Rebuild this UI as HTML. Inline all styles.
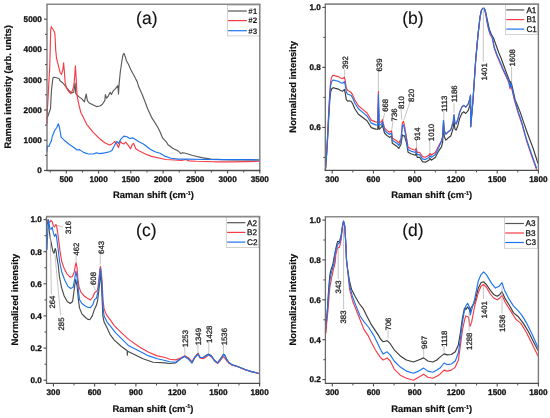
<!DOCTYPE html>
<html><head><meta charset="utf-8"><style>
html,body{margin:0;padding:0;background:#fff;}
svg{display:block;}
.g{filter:blur(0.3px);}
.t{filter:blur(0.12px);}
text{font-family:"Liberation Sans",sans-serif;fill:#111;text-rendering:geometricPrecision;}
.tk{font-size:8.2px;font-weight:bold;stroke:#111;stroke-width:0.3px;}
.ttl{font-size:9.4px;font-weight:bold;stroke:#111;stroke-width:0.2px;}
.ttla{font-size:10.2px;font-weight:bold;}
.ann{font-size:7.8px;fill:#1a1a1a;stroke:#1a1a1a;stroke-width:0.25px;}
.lg{font-size:8.2px;fill:#111;stroke:#111;stroke-width:0.25px;}
.lga{font-size:8px;font-weight:bold;fill:#111;}
.pl{font-size:17.5px;fill:#111;stroke:#111;stroke-width:0.12px;}
</style></head><body>
<svg width="550" height="418" viewBox="0 0 550 418">
<rect width="550" height="418" fill="#fff"/>
<g class="g">
<polyline points="46.9,118.8 49.0,113.0 50.5,108.7 51.4,90.9 52.9,78.0 54.3,77.2 57.2,78.0 59.3,78.7 60.0,80.8 62.9,83.0 65.8,86.6 68.7,90.2 71.5,93.0 73.7,92.3 75.1,83.0 75.8,93.7 78.7,96.6 81.6,98.6 84.4,101.8 86.2,94.0 87.4,100.6 89.2,103.0 92.8,104.8 96.4,106.6 100.0,106.0 102.4,104.2 104.8,100.6 105.4,94.6 106.6,98.2 108.4,95.8 110.2,92.3 111.4,94.6 113.1,91.1 115.5,88.7 117.9,85.7 118.5,94.0 119.1,83.9 120.3,72.0 121.8,61.5 122.9,55.0 124.0,53.3 125.4,57.2 126.5,60.8 128.7,64.7 130.7,69.4 133.7,75.0 135.8,79.1 137.2,81.6 138.6,86.6 142.2,94.5 145.8,103.8 147.5,108.5 151.9,117.9 157.9,127.5 160.0,131.8 162.7,138.2 166.3,141.8 168.0,144.8 172.7,148.2 178.2,150.9 180.9,153.6 182.7,152.7 185.5,153.3 192.7,155.5 201.8,157.6 210.9,159.1 223.6,159.6 232.7,160.0 241.8,159.6 259.5,160.0" fill="none" stroke="#5a5a5a" stroke-width="1.15" stroke-linejoin="round"/>
<polyline points="46.9,124.0 47.4,110.0 48.2,95.0 49.0,80.0 49.7,68.0 50.2,50.0 50.7,30.0 51.3,26.6 51.9,27.8 52.8,29.0 53.7,30.8 54.3,31.4 54.9,33.7 55.7,50.0 56.5,58.0 57.9,63.6 60.0,72.2 61.5,74.4 62.9,69.3 63.6,62.9 64.3,70.8 65.1,82.3 66.5,88.0 68.7,91.6 70.8,93.7 72.2,90.9 73.7,86.6 74.7,76.5 75.4,65.8 76.1,76.5 77.0,95.2 78.7,103.8 80.8,112.5 81.9,114.6 86.7,124.3 93.2,132.3 99.6,138.7 104.8,142.7 109.6,145.1 111.9,143.9 114.9,141.5 116.7,143.9 118.5,147.5 120.3,141.5 122.1,143.3 123.9,143.9 125.7,142.1 128.1,145.1 130.5,148.7 132.3,144.5 133.5,143.3 135.8,148.7 139.4,151.1 145.4,154.0 151.4,156.4 160.0,158.2 165.5,159.5 174.5,160.0 181.8,160.5 185.5,159.5 189.1,160.9 196.4,161.3 214.5,161.8 232.7,161.8 259.5,161.3" fill="none" stroke="#f63c46" stroke-width="1.15" stroke-linejoin="round"/>
<polyline points="46.9,151.6 47.4,146.0 49.0,146.5 50.6,141.9 51.2,141.6 52.4,136.0 54.7,130.5 56.5,128.0 58.4,123.8 59.6,128.0 61.1,137.2 64.2,140.2 69.1,144.3 73.9,147.5 77.1,150.0 79.5,149.6 83.5,152.4 88.3,154.0 93.2,154.0 96.4,152.8 99.6,153.6 104.8,152.9 109.6,151.7 111.9,150.5 114.3,145.7 116.7,141.5 118.5,143.3 120.9,139.1 123.9,136.1 126.9,136.7 129.9,138.5 132.9,137.9 135.8,139.7 139.4,142.1 144.2,144.5 150.2,149.3 155.0,151.7 160.0,153.3 165.5,156.4 170.9,158.2 178.2,159.1 187.3,159.1 205.5,159.5 223.6,159.6 241.8,159.6 259.5,160.0" fill="none" stroke="#1e74ee" stroke-width="1.15" stroke-linejoin="round"/>
<rect x="227.5" y="5.3" width="32.30000000000001" height="30.599999999999998" fill="#fff" stroke="#c8c8c8" stroke-width="0.8"/>
<line x1="228.1" y1="11" x2="246.8" y2="11" stroke="#555555" stroke-width="1.2"/>
<line x1="228.1" y1="20.6" x2="246.8" y2="20.6" stroke="#f63c46" stroke-width="1.2"/>
<line x1="228.1" y1="30.7" x2="246.8" y2="30.7" stroke="#1e74ee" stroke-width="1.2"/>
<line x1="46.4" y1="4.3" x2="260.5" y2="4.3" stroke="#8a8a8a" stroke-width="1.6"/>
<line x1="259.8" y1="4.3" x2="259.8" y2="170.5" stroke="#7c7c7c" stroke-width="1.4"/>
<line x1="47" y1="4.3" x2="47" y2="170.5" stroke="#6e6e6e" stroke-width="1.3"/>
<line x1="46.4" y1="170.5" x2="260.40000000000003" y2="170.5" stroke="#4e4e4e" stroke-width="1.3"/>
<line x1="66.3" y1="170.5" x2="66.3" y2="173.5" stroke="#4a4a4a" stroke-width="1.1"/>
<line x1="98.6" y1="170.5" x2="98.6" y2="173.5" stroke="#4a4a4a" stroke-width="1.1"/>
<line x1="130.8" y1="170.5" x2="130.8" y2="173.5" stroke="#4a4a4a" stroke-width="1.1"/>
<line x1="163.1" y1="170.5" x2="163.1" y2="173.5" stroke="#4a4a4a" stroke-width="1.1"/>
<line x1="195.3" y1="170.5" x2="195.3" y2="173.5" stroke="#4a4a4a" stroke-width="1.1"/>
<line x1="227.6" y1="170.5" x2="227.6" y2="173.5" stroke="#4a4a4a" stroke-width="1.1"/>
<line x1="259.8" y1="170.5" x2="259.8" y2="173.5" stroke="#4a4a4a" stroke-width="1.1"/>
<line x1="50.2" y1="170.5" x2="50.2" y2="172.5" stroke="#4a4a4a" stroke-width="1"/>
<line x1="82.5" y1="170.5" x2="82.5" y2="172.5" stroke="#4a4a4a" stroke-width="1"/>
<line x1="114.7" y1="170.5" x2="114.7" y2="172.5" stroke="#4a4a4a" stroke-width="1"/>
<line x1="147.0" y1="170.5" x2="147.0" y2="172.5" stroke="#4a4a4a" stroke-width="1"/>
<line x1="179.2" y1="170.5" x2="179.2" y2="172.5" stroke="#4a4a4a" stroke-width="1"/>
<line x1="211.4" y1="170.5" x2="211.4" y2="172.5" stroke="#4a4a4a" stroke-width="1"/>
<line x1="243.7" y1="170.5" x2="243.7" y2="172.5" stroke="#4a4a4a" stroke-width="1"/>
<line x1="44" y1="170.5" x2="47" y2="170.5" stroke="#4a4a4a" stroke-width="1.1"/>
<line x1="44" y1="140.2" x2="47" y2="140.2" stroke="#4a4a4a" stroke-width="1.1"/>
<line x1="44" y1="110.0" x2="47" y2="110.0" stroke="#4a4a4a" stroke-width="1.1"/>
<line x1="44" y1="79.7" x2="47" y2="79.7" stroke="#4a4a4a" stroke-width="1.1"/>
<line x1="44" y1="49.5" x2="47" y2="49.5" stroke="#4a4a4a" stroke-width="1.1"/>
<line x1="44" y1="19.2" x2="47" y2="19.2" stroke="#4a4a4a" stroke-width="1.1"/>
<line x1="45" y1="155.3" x2="47" y2="155.3" stroke="#4a4a4a" stroke-width="1"/>
<line x1="45" y1="125.1" x2="47" y2="125.1" stroke="#4a4a4a" stroke-width="1"/>
<line x1="45" y1="94.8" x2="47" y2="94.8" stroke="#4a4a4a" stroke-width="1"/>
<line x1="45" y1="64.6" x2="47" y2="64.6" stroke="#4a4a4a" stroke-width="1"/>
<line x1="45" y1="34.3" x2="47" y2="34.3" stroke="#4a4a4a" stroke-width="1"/>
<polyline points="325.4,170.2 326.5,157.0 327.6,139.1 328.8,116.4 329.8,100.4 330.6,92.0 331.5,89.2 332.6,88.0 333.5,87.7 335.5,88.4 338.3,89.1 340.5,90.5 342.7,91.2 344.4,89.5 345.3,93.3 346.3,99.6 347.7,101.1 349.5,100.8 351.3,101.5 352.7,103.8 354.8,108.7 358.4,114.2 362.7,117.5 367.0,120.8 371.3,127.6 375.6,129.1 377.8,129.3 378.4,104.4 379.1,129.3 380.2,128.4 381.6,126.9 382.4,124.5 383.3,128.5 384.5,133.0 386.6,135.2 389.5,137.4 391.6,136.1 392.3,143.3 394.5,144.7 396.7,146.2 398.8,148.4 401.0,144.2 402.4,134.9 403.5,135.8 404.5,135.8 406.7,143.7 408.1,152.3 411.0,153.7 415.3,155.2 416.2,153.2 417.2,157.3 419.6,157.3 422.5,161.6 425.3,162.3 428.9,160.2 429.9,158.3 431.3,160.2 435.4,157.3 438.6,151.1 441.5,146.9 442.6,142.5 443.5,126.1 444.4,137.3 446.0,140.1 448.4,137.7 450.8,136.0 453.1,128.3 454.0,120.9 454.9,128.9 456.1,130.2 457.9,125.4 459.7,118.2 462.1,113.0 463.9,111.8 465.7,113.5 468.1,110.7 469.9,105.3 470.5,95.9 470.7,126.6 473.0,100.0 475.7,60.0 477.9,35.9 480.0,17.2 481.5,10.0 482.9,8.3 484.5,8.8 486.0,13.5 487.5,21.0 489.4,29.5 491.2,34.0 493.7,38.5 496.0,45.0 498.7,52.5 501.0,58.0 504.4,67.3 508.7,78.7 510.4,83.5 511.0,81.5 513.0,90.2 515.2,100.0 520.2,112.1 523.6,122.4 527.9,134.5 533.1,148.3 538.0,163.5" fill="none" stroke="#3c3c3c" stroke-width="1.15" stroke-linejoin="round"/>
<polyline points="325.4,170.2 326.5,155.0 327.6,135.0 328.8,110.0 329.8,92.0 330.6,82.0 331.5,77.5 332.6,75.5 333.5,75.2 335.5,75.9 338.3,76.6 340.5,78.0 342.7,78.7 344.4,77.0 345.3,81.0 346.3,88.0 347.7,90.5 349.5,91.5 351.3,92.6 352.7,95.0 354.8,100.0 358.4,105.8 362.7,109.4 367.0,113.0 371.3,120.1 375.6,121.9 377.8,122.3 378.4,91.4 379.1,122.3 380.2,122.2 381.6,121.6 382.4,119.5 383.3,123.5 384.5,127.9 386.6,130.1 389.5,132.2 391.6,130.8 392.3,138.0 394.5,139.4 396.7,140.8 398.8,143.0 401.0,138.7 402.4,122.9 403.5,121.2 404.5,125.8 406.7,138.7 408.1,147.3 411.0,148.7 415.3,150.2 416.2,148.2 417.2,152.3 419.6,152.3 422.5,156.6 425.3,157.3 428.9,155.2 429.9,153.3 431.3,155.2 435.4,152.3 438.6,145.9 441.5,140.9 442.6,136.5 443.5,120.1 444.4,131.2 446.0,134.0 448.4,131.6 450.8,129.8 453.1,122.1 454.0,114.7 454.9,122.7 456.1,123.9 457.9,119.1 459.7,111.9 462.1,106.6 463.9,105.4 465.7,107.1 468.1,104.2 469.9,98.8 470.5,95.0 470.7,126.6 473.0,100.0 475.7,60.0 477.9,35.9 480.0,17.2 481.5,10.0 482.9,8.3 484.3,8.6 485.8,14.3 487.2,23.0 488.7,30.1 490.1,34.4 492.2,38.0 494.3,48.6 497.2,56.5 500.1,63.0 503.0,70.1 505.8,75.9 508.7,82.3 510.1,88.8 510.8,84.5 512.3,90.9 514.4,100.0 518.4,113.8 521.9,124.1 526.2,139.7 531.4,155.2 536.6,169.8" fill="none" stroke="#f63c46" stroke-width="1.15" stroke-linejoin="round"/>
<polyline points="325.4,170.2 326.5,155.8 327.6,136.6 328.8,112.5 329.8,95.2 330.6,85.8 331.5,82.0 332.6,80.3 333.5,80.0 335.5,80.6 338.3,81.3 340.5,82.6 342.7,83.3 344.4,81.5 345.3,85.4 346.3,92.1 347.7,94.2 349.5,94.7 351.3,95.6 352.7,98.0 354.8,103.0 358.4,108.8 362.7,112.4 367.0,116.0 371.3,123.1 375.6,124.9 377.8,125.3 378.4,94.3 379.1,125.1 380.2,124.8 381.6,123.9 382.4,121.7 383.3,125.7 384.5,130.1 386.6,132.3 389.5,134.5 391.6,133.1 392.3,140.3 394.5,141.7 396.7,143.2 398.8,145.4 401.0,141.1 402.4,126.0 403.5,124.9 404.5,129.1 406.7,141.1 408.1,149.7 411.0,151.1 415.3,152.5 416.2,150.5 417.2,154.6 419.6,154.6 422.5,158.9 425.3,159.6 428.9,157.5 429.9,155.6 431.3,157.4 435.4,154.5 438.6,147.7 441.5,141.1 442.6,136.7 443.5,120.3 444.4,131.4 446.0,134.2 448.4,131.7 450.8,129.9 453.1,122.2 454.0,114.8 454.9,122.8 456.1,124.0 457.9,119.2 459.7,112.0 462.1,106.7 463.9,105.4 465.7,107.1 468.1,104.2 469.9,98.8 470.5,95.0 470.7,126.6 473.0,100.0 475.7,60.0 477.9,35.9 480.0,17.2 481.5,10.0 482.9,8.3 484.3,8.2 485.8,13.5 487.2,21.8 488.7,28.9 490.1,33.2 492.2,36.8 494.3,47.3 497.2,55.2 500.1,61.7 503.0,68.8 505.8,74.5 508.7,80.9 510.1,87.4 510.8,83.1 512.3,89.5 514.4,98.6 518.4,112.3 521.9,122.6 526.2,138.2 531.4,153.6 536.6,168.2" fill="none" stroke="#1e74ee" stroke-width="1.15" stroke-linejoin="round"/>
<rect x="505.5" y="4.3" width="32.10000000000002" height="30.099999999999998" fill="#fff" stroke="#c8c8c8" stroke-width="0.8"/>
<line x1="506.3" y1="9.9" x2="524.3" y2="9.9" stroke="#555555" stroke-width="1.2"/>
<line x1="506.3" y1="19.6" x2="524.3" y2="19.6" stroke="#f63c46" stroke-width="1.2"/>
<line x1="506.3" y1="29.1" x2="524.3" y2="29.1" stroke="#1e74ee" stroke-width="1.2"/>
<line x1="324.7" y1="4.1" x2="539.1" y2="4.1" stroke="#8a8a8a" stroke-width="1.6"/>
<line x1="538.4" y1="4.1" x2="538.4" y2="170.4" stroke="#7c7c7c" stroke-width="1.4"/>
<line x1="325.3" y1="4.1" x2="325.3" y2="170.4" stroke="#6e6e6e" stroke-width="1.3"/>
<line x1="324.7" y1="170.4" x2="539.0" y2="170.4" stroke="#4e4e4e" stroke-width="1.3"/>
<line x1="332.2" y1="170.4" x2="332.2" y2="173.4" stroke="#4a4a4a" stroke-width="1.1"/>
<line x1="373.4" y1="170.4" x2="373.4" y2="173.4" stroke="#4a4a4a" stroke-width="1.1"/>
<line x1="414.7" y1="170.4" x2="414.7" y2="173.4" stroke="#4a4a4a" stroke-width="1.1"/>
<line x1="455.9" y1="170.4" x2="455.9" y2="173.4" stroke="#4a4a4a" stroke-width="1.1"/>
<line x1="497.2" y1="170.4" x2="497.2" y2="173.4" stroke="#4a4a4a" stroke-width="1.1"/>
<line x1="538.4" y1="170.4" x2="538.4" y2="173.4" stroke="#4a4a4a" stroke-width="1.1"/>
<line x1="352.8" y1="170.4" x2="352.8" y2="172.4" stroke="#4a4a4a" stroke-width="1"/>
<line x1="394.0" y1="170.4" x2="394.0" y2="172.4" stroke="#4a4a4a" stroke-width="1"/>
<line x1="435.3" y1="170.4" x2="435.3" y2="172.4" stroke="#4a4a4a" stroke-width="1"/>
<line x1="476.5" y1="170.4" x2="476.5" y2="172.4" stroke="#4a4a4a" stroke-width="1"/>
<line x1="517.8" y1="170.4" x2="517.8" y2="172.4" stroke="#4a4a4a" stroke-width="1"/>
<line x1="322.3" y1="7.4" x2="325.3" y2="7.4" stroke="#4a4a4a" stroke-width="1.1"/>
<line x1="322.3" y1="67.4" x2="325.3" y2="67.4" stroke="#4a4a4a" stroke-width="1.1"/>
<line x1="322.3" y1="127.4" x2="325.3" y2="127.4" stroke="#4a4a4a" stroke-width="1.1"/>
<line x1="323.3" y1="37.4" x2="325.3" y2="37.4" stroke="#4a4a4a" stroke-width="1"/>
<line x1="323.3" y1="97.4" x2="325.3" y2="97.4" stroke="#4a4a4a" stroke-width="1"/>
<line x1="323.3" y1="157.4" x2="325.3" y2="157.4" stroke="#4a4a4a" stroke-width="1"/>
<polyline points="46.6,226.0 48.0,219.8 49.2,230.6 50.4,238.9 51.6,244.9 52.8,250.9 54.0,253.3 55.2,248.5 56.0,250.9 57.0,258.0 58.2,265.0 59.4,276.5 61.5,287.3 64.2,296.0 67.2,301.5 70.2,303.5 72.6,301.5 74.0,291.0 75.6,279.5 77.1,286.1 78.5,300.5 79.5,307.9 81.9,313.9 85.5,317.5 87.4,319.1 89.8,319.7 92.2,316.1 94.6,308.9 96.4,305.3 97.6,300.5 98.8,291.0 100.0,280.0 100.5,268.5 101.2,280.0 101.7,290.0 102.9,316.1 104.1,322.1 107.1,328.1 110.0,334.3 114.3,340.1 121.5,346.5 127.2,350.8 127.3,355.2 127.6,351.2 134.4,354.4 143.0,358.7 153.0,362.3 165.0,362.9 169.8,363.5 175.8,362.9 180.5,358.7 184.7,356.5 188.9,359.3 191.9,362.9 194.9,357.0 197.9,353.3 200.2,357.5 203.2,357.5 206.2,355.3 208.6,353.9 211.6,356.0 214.6,360.5 217.6,362.9 220.7,358.5 223.6,354.0 225.0,355.5 226.5,359.1 228.9,362.5 232.2,364.9 237.0,366.3 240.8,367.8 245.6,369.7 251.4,371.6 259.5,373.5" fill="none" stroke="#4a4a4a" stroke-width="1.15" stroke-linejoin="round"/>
<polyline points="46.6,223.0 48.0,221.0 49.8,222.2 51.0,220.4 52.2,221.6 53.4,225.8 54.6,227.0 55.8,224.6 56.4,225.2 57.6,231.7 58.8,241.3 60.0,250.9 61.7,261.5 64.1,268.2 67.1,274.1 70.1,277.1 72.5,276.5 74.3,271.7 75.5,264.6 76.1,262.8 77.1,268.2 77.9,278.9 79.1,287.3 80.9,292.1 84.5,296.3 87.4,298.2 90.4,300.0 92.8,297.0 94.6,292.8 96.4,291.6 97.6,289.8 98.8,279.7 100.0,268.9 100.6,266.5 101.5,274.9 102.3,284.5 102.9,299.4 104.1,308.9 106.5,314.9 110.1,319.7 114.3,325.7 121.5,332.9 128.7,339.4 138.7,346.5 148.7,352.3 157.3,355.9 165.0,357.5 169.8,359.3 175.8,359.9 180.5,358.1 184.7,355.7 188.9,358.1 191.9,361.7 194.9,356.9 197.9,353.9 200.2,358.1 203.2,358.7 206.2,356.9 208.6,355.1 211.6,356.9 214.6,361.1 217.6,363.5 220.7,360.0 223.6,356.5 226.5,360.5 228.9,363.2 232.2,365.3 237.0,366.5 240.8,368.0 245.6,369.9 251.4,371.8 259.5,373.8" fill="none" stroke="#f63c46" stroke-width="1.15" stroke-linejoin="round"/>
<polyline points="47.0,250.0 47.6,235.0 48.2,219.8 48.6,220.4 49.8,228.2 51.0,229.4 52.2,227.0 53.4,232.9 54.6,236.5 55.8,234.1 56.4,235.9 57.6,244.9 58.8,254.5 59.7,262.0 61.7,271.7 64.7,280.1 67.7,286.1 70.7,288.5 73.1,287.3 74.7,278.9 75.9,271.1 77.1,277.7 78.5,290.9 79.5,299.6 81.9,303.5 85.3,306.0 87.4,307.1 90.4,307.7 92.8,304.7 94.6,299.4 96.4,298.2 98.2,291.0 99.1,280.9 100.3,268.3 101.7,280.9 102.5,295.0 102.9,306.5 104.1,316.1 107.1,322.1 110.0,325.7 115.7,332.9 121.5,338.7 128.7,345.8 138.7,350.8 148.7,355.9 157.3,358.7 165.0,360.5 169.8,361.7 175.8,362.3 180.5,358.7 184.7,356.3 188.9,359.3 191.9,362.9 194.9,357.5 197.9,354.5 200.2,357.5 203.2,357.5 206.2,355.7 208.6,354.5 211.6,356.3 214.6,360.5 217.6,362.9 220.7,359.1 222.7,355.8 223.6,354.4 225.0,355.8 226.5,359.1 228.9,362.5 232.2,364.9 237.0,366.3 240.8,367.8 245.6,369.7 251.4,371.6 259.5,373.5" fill="none" stroke="#1e74ee" stroke-width="1.15" stroke-linejoin="round"/>
<rect x="226.3" y="216.6" width="32.5" height="30.900000000000006" fill="#fff" stroke="#c8c8c8" stroke-width="0.8"/>
<line x1="227.1" y1="222.7" x2="245.4" y2="222.7" stroke="#555555" stroke-width="1.2"/>
<line x1="227.1" y1="232.4" x2="245.4" y2="232.4" stroke="#f63c46" stroke-width="1.2"/>
<line x1="227.1" y1="242.1" x2="245.4" y2="242.1" stroke="#1e74ee" stroke-width="1.2"/>
<line x1="45.9" y1="216.6" x2="260.3" y2="216.6" stroke="#8a8a8a" stroke-width="1.6"/>
<line x1="259.6" y1="216.6" x2="259.6" y2="383.4" stroke="#7c7c7c" stroke-width="1.4"/>
<line x1="46.5" y1="216.6" x2="46.5" y2="383.4" stroke="#6e6e6e" stroke-width="1.3"/>
<line x1="45.9" y1="383.4" x2="260.20000000000005" y2="383.4" stroke="#4e4e4e" stroke-width="1.3"/>
<line x1="53.4" y1="383.4" x2="53.4" y2="386.4" stroke="#4a4a4a" stroke-width="1.1"/>
<line x1="94.6" y1="383.4" x2="94.6" y2="386.4" stroke="#4a4a4a" stroke-width="1.1"/>
<line x1="135.9" y1="383.4" x2="135.9" y2="386.4" stroke="#4a4a4a" stroke-width="1.1"/>
<line x1="177.1" y1="383.4" x2="177.1" y2="386.4" stroke="#4a4a4a" stroke-width="1.1"/>
<line x1="218.4" y1="383.4" x2="218.4" y2="386.4" stroke="#4a4a4a" stroke-width="1.1"/>
<line x1="259.6" y1="383.4" x2="259.6" y2="386.4" stroke="#4a4a4a" stroke-width="1.1"/>
<line x1="74.0" y1="383.4" x2="74.0" y2="385.4" stroke="#4a4a4a" stroke-width="1"/>
<line x1="115.2" y1="383.4" x2="115.2" y2="385.4" stroke="#4a4a4a" stroke-width="1"/>
<line x1="156.5" y1="383.4" x2="156.5" y2="385.4" stroke="#4a4a4a" stroke-width="1"/>
<line x1="197.7" y1="383.4" x2="197.7" y2="385.4" stroke="#4a4a4a" stroke-width="1"/>
<line x1="239.0" y1="383.4" x2="239.0" y2="385.4" stroke="#4a4a4a" stroke-width="1"/>
<line x1="43.5" y1="219.6" x2="46.5" y2="219.6" stroke="#4a4a4a" stroke-width="1.1"/>
<line x1="43.5" y1="251.7" x2="46.5" y2="251.7" stroke="#4a4a4a" stroke-width="1.1"/>
<line x1="43.5" y1="283.8" x2="46.5" y2="283.8" stroke="#4a4a4a" stroke-width="1.1"/>
<line x1="43.5" y1="315.9" x2="46.5" y2="315.9" stroke="#4a4a4a" stroke-width="1.1"/>
<line x1="43.5" y1="348.1" x2="46.5" y2="348.1" stroke="#4a4a4a" stroke-width="1.1"/>
<line x1="43.5" y1="380.2" x2="46.5" y2="380.2" stroke="#4a4a4a" stroke-width="1.1"/>
<line x1="44.5" y1="235.7" x2="46.5" y2="235.7" stroke="#4a4a4a" stroke-width="1"/>
<line x1="44.5" y1="267.8" x2="46.5" y2="267.8" stroke="#4a4a4a" stroke-width="1"/>
<line x1="44.5" y1="299.9" x2="46.5" y2="299.9" stroke="#4a4a4a" stroke-width="1"/>
<line x1="44.5" y1="332.0" x2="46.5" y2="332.0" stroke="#4a4a4a" stroke-width="1"/>
<line x1="44.5" y1="364.2" x2="46.5" y2="364.2" stroke="#4a4a4a" stroke-width="1"/>
<polyline points="325.6,333.0 327.4,310.0 328.6,289.9 329.8,275.6 331.0,269.6 332.8,264.8 334.6,254.5 336.4,246.1 337.6,241.3 339.4,241.9 341.1,235.9 342.3,227.0 343.5,221.0 344.7,225.8 345.9,244.9 346.5,260.0 347.7,270.0 349.6,281.5 351.5,289.2 355.3,296.8 359.2,303.5 363.0,308.3 366.8,316.0 370.7,323.6 374.5,329.4 378.3,335.1 380.5,339.0 383.0,341.7 387.1,340.7 390.2,343.7 394.2,349.8 400.3,355.9 406.4,360.0 413.5,362.0 418.6,360.0 423.7,357.9 427.8,361.0 432.8,362.0 436.9,360.0 439.1,357.9 444.1,353.9 447.2,354.9 451.3,354.5 455.3,351.8 458.4,344.7 460.4,332.5 462.4,318.3 464.5,308.1 465.8,309.6 467.6,306.9 469.4,309.6 470.2,312.5 470.8,308.0 474.7,302.5 478.3,288.1 481.0,282.7 483.4,281.8 486.4,284.5 490.0,289.9 493.6,294.4 497.2,296.2 499.9,294.4 502.0,291.7 505.3,298.9 509.8,306.0 513.4,312.6 518.4,316.8 523.4,323.4 528.5,331.8 533.5,341.8 538.0,350.5" fill="none" stroke="#3c3c3c" stroke-width="1.15" stroke-linejoin="round"/>
<polyline points="325.6,334.0 328.0,310.0 329.8,287.5 331.6,277.9 333.4,269.6 335.2,262.4 335.8,254.5 337.6,247.9 339.4,247.3 341.1,240.1 342.3,229.4 343.5,221.6 344.7,226.0 345.9,245.0 346.5,260.0 347.7,271.0 349.6,289.2 352.5,300.7 356.3,310.2 360.1,319.8 363.9,329.4 367.8,335.1 371.6,342.8 375.4,350.0 380.0,356.9 383.0,360.0 387.1,357.9 390.2,361.0 394.2,369.1 400.3,375.2 406.4,378.3 413.5,380.3 418.6,377.2 423.7,374.2 427.8,377.2 432.8,378.3 436.9,376.2 440.0,374.2 444.1,370.1 447.2,371.1 451.3,370.1 455.3,367.1 458.4,360.0 460.4,345.7 462.4,330.5 464.5,320.3 465.8,315.9 466.5,316.3 468.5,317.3 470.0,326.4 471.6,322.4 474.7,306.0 478.3,292.6 481.0,286.3 483.4,284.5 486.4,287.2 490.0,293.5 493.6,298.0 497.2,299.8 499.9,298.0 502.0,295.3 505.3,302.5 509.8,309.6 515.9,319.3 520.9,323.4 526.0,331.8 531.0,341.8 535.2,350.2 538.0,356.0" fill="none" stroke="#f63c46" stroke-width="1.15" stroke-linejoin="round"/>
<polyline points="325.6,326.0 327.4,310.0 329.2,286.3 330.4,276.7 332.2,269.6 334.0,263.6 334.6,256.0 336.4,248.0 338.2,243.7 339.4,243.0 341.1,236.5 342.3,227.0 343.5,221.0 344.7,225.8 345.9,244.9 346.5,260.0 347.7,270.0 349.6,285.3 352.5,296.8 356.3,306.4 360.1,316.0 363.9,321.7 368.7,327.5 373.5,335.1 378.3,344.7 380.5,349.5 383.0,353.9 387.1,351.8 390.2,354.9 394.2,361.0 400.3,367.1 406.4,371.1 413.5,373.2 418.6,371.1 423.7,368.1 427.8,371.1 432.8,372.2 436.9,370.1 440.0,368.1 444.1,363.0 447.2,364.6 451.3,364.0 455.3,361.0 458.4,352.8 460.4,338.6 462.4,322.4 464.5,310.2 465.8,306.0 467.6,303.3 469.4,306.9 470.3,315.0 471.6,310.2 474.7,298.9 478.3,280.9 481.0,274.6 483.7,271.9 486.4,274.6 489.1,279.1 491.8,283.6 495.4,288.1 499.0,286.3 502.0,282.7 504.4,289.9 508.9,298.9 513.4,305.9 517.6,310.1 521.8,315.1 526.8,323.4 531.8,333.5 538.0,347.5" fill="none" stroke="#1e74ee" stroke-width="1.15" stroke-linejoin="round"/>
<rect x="504.5" y="216.7" width="33.10000000000002" height="31.600000000000023" fill="#fff" stroke="#c8c8c8" stroke-width="0.8"/>
<line x1="505.2" y1="223.5" x2="523.9" y2="223.5" stroke="#555555" stroke-width="1.2"/>
<line x1="505.2" y1="233" x2="523.9" y2="233" stroke="#f63c46" stroke-width="1.2"/>
<line x1="505.2" y1="242.5" x2="523.9" y2="242.5" stroke="#1e74ee" stroke-width="1.2"/>
<line x1="324.79999999999995" y1="216.7" x2="539.1" y2="216.7" stroke="#8a8a8a" stroke-width="1.6"/>
<line x1="538.4" y1="216.7" x2="538.4" y2="383.4" stroke="#7c7c7c" stroke-width="1.4"/>
<line x1="325.4" y1="216.7" x2="325.4" y2="383.4" stroke="#6e6e6e" stroke-width="1.3"/>
<line x1="324.79999999999995" y1="383.4" x2="539.0" y2="383.4" stroke="#4e4e4e" stroke-width="1.3"/>
<line x1="332.3" y1="383.4" x2="332.3" y2="386.4" stroke="#4a4a4a" stroke-width="1.1"/>
<line x1="373.5" y1="383.4" x2="373.5" y2="386.4" stroke="#4a4a4a" stroke-width="1.1"/>
<line x1="414.7" y1="383.4" x2="414.7" y2="386.4" stroke="#4a4a4a" stroke-width="1.1"/>
<line x1="455.9" y1="383.4" x2="455.9" y2="386.4" stroke="#4a4a4a" stroke-width="1.1"/>
<line x1="497.2" y1="383.4" x2="497.2" y2="386.4" stroke="#4a4a4a" stroke-width="1.1"/>
<line x1="538.4" y1="383.4" x2="538.4" y2="386.4" stroke="#4a4a4a" stroke-width="1.1"/>
<line x1="352.9" y1="383.4" x2="352.9" y2="385.4" stroke="#4a4a4a" stroke-width="1"/>
<line x1="394.1" y1="383.4" x2="394.1" y2="385.4" stroke="#4a4a4a" stroke-width="1"/>
<line x1="435.3" y1="383.4" x2="435.3" y2="385.4" stroke="#4a4a4a" stroke-width="1"/>
<line x1="476.6" y1="383.4" x2="476.6" y2="385.4" stroke="#4a4a4a" stroke-width="1"/>
<line x1="517.8" y1="383.4" x2="517.8" y2="385.4" stroke="#4a4a4a" stroke-width="1"/>
<line x1="322.4" y1="220.1" x2="325.4" y2="220.1" stroke="#4a4a4a" stroke-width="1.1"/>
<line x1="322.4" y1="259.9" x2="325.4" y2="259.9" stroke="#4a4a4a" stroke-width="1.1"/>
<line x1="322.4" y1="299.8" x2="325.4" y2="299.8" stroke="#4a4a4a" stroke-width="1.1"/>
<line x1="322.4" y1="339.7" x2="325.4" y2="339.7" stroke="#4a4a4a" stroke-width="1.1"/>
<line x1="322.4" y1="379.6" x2="325.4" y2="379.6" stroke="#4a4a4a" stroke-width="1.1"/>
<line x1="323.4" y1="240.0" x2="325.4" y2="240.0" stroke="#4a4a4a" stroke-width="1"/>
<line x1="323.4" y1="279.9" x2="325.4" y2="279.9" stroke="#4a4a4a" stroke-width="1"/>
<line x1="323.4" y1="319.8" x2="325.4" y2="319.8" stroke="#4a4a4a" stroke-width="1"/>
<line x1="323.4" y1="359.7" x2="325.4" y2="359.7" stroke="#4a4a4a" stroke-width="1"/>
<line x1="344.6" y1="69.4" x2="344.6" y2="75.6" stroke="#b5b5b5" stroke-width="0.8"/>
<line x1="378.4" y1="70.8" x2="378.4" y2="90.4" stroke="#b5b5b5" stroke-width="0.8"/>
<line x1="384.6" y1="113" x2="383.1" y2="120.2" stroke="#b5b5b5" stroke-width="0.8"/>
<line x1="393" y1="121.6" x2="391.7" y2="129.8" stroke="#b5b5b5" stroke-width="0.8"/>
<line x1="401" y1="108.7" x2="401.7" y2="119.5" stroke="#b5b5b5" stroke-width="0.8"/>
<line x1="410.3" y1="101" x2="403.9" y2="120" stroke="#b5b5b5" stroke-width="0.8"/>
<line x1="416.5" y1="140.1" x2="416.5" y2="148" stroke="#b5b5b5" stroke-width="0.8"/>
<line x1="429.7" y1="140.8" x2="429.9" y2="152.5" stroke="#b5b5b5" stroke-width="0.8"/>
<line x1="443.8" y1="111.5" x2="443.8" y2="119" stroke="#b5b5b5" stroke-width="0.8"/>
<line x1="454" y1="103.2" x2="454" y2="112.9" stroke="#b5b5b5" stroke-width="0.8"/>
<line x1="483.3" y1="8.5" x2="483.3" y2="61.6" stroke="#b5b5b5" stroke-width="0.8"/>
<line x1="511.6" y1="66.5" x2="511.6" y2="83" stroke="#b5b5b5" stroke-width="0.8"/>
<line x1="56.4" y1="225.2" x2="62.9" y2="227" stroke="#b5b5b5" stroke-width="0.8"/>
<line x1="76.1" y1="255.5" x2="76.1" y2="262" stroke="#b5b5b5" stroke-width="0.8"/>
<line x1="93.4" y1="285.7" x2="95.8" y2="290.5" stroke="#b5b5b5" stroke-width="0.8"/>
<line x1="100.3" y1="253.4" x2="100.3" y2="264.7" stroke="#b5b5b5" stroke-width="0.8"/>
<line x1="50.3" y1="236" x2="51.4" y2="294.6" stroke="#b5b5b5" stroke-width="0.8"/>
<line x1="55.0" y1="255" x2="60.6" y2="315.2" stroke="#b5b5b5" stroke-width="0.8"/>
<line x1="184.8" y1="346.4" x2="184.8" y2="355.5" stroke="#b5b5b5" stroke-width="0.8"/>
<line x1="197.9" y1="344.4" x2="197.9" y2="353.2" stroke="#b5b5b5" stroke-width="0.8"/>
<line x1="208.8" y1="342" x2="208.8" y2="352.6" stroke="#b5b5b5" stroke-width="0.8"/>
<line x1="223.5" y1="344.4" x2="223.5" y2="353.8" stroke="#b5b5b5" stroke-width="0.8"/>
<line x1="338.2" y1="248" x2="338.2" y2="279.1" stroke="#b5b5b5" stroke-width="0.8"/>
<line x1="343.6" y1="228" x2="343.6" y2="309" stroke="#b5b5b5" stroke-width="0.8"/>
<line x1="388.1" y1="329.7" x2="388.1" y2="338.6" stroke="#b5b5b5" stroke-width="0.8"/>
<line x1="423.7" y1="348" x2="423.7" y2="356.9" stroke="#b5b5b5" stroke-width="0.8"/>
<line x1="444.1" y1="345.9" x2="444.1" y2="352.8" stroke="#b5b5b5" stroke-width="0.8"/>
<line x1="469.1" y1="312" x2="469.1" y2="331.3" stroke="#b5b5b5" stroke-width="0.8"/>
<line x1="483.4" y1="286.3" x2="483.4" y2="299" stroke="#b5b5b5" stroke-width="0.8"/>
<line x1="502" y1="285" x2="502" y2="314" stroke="#b5b5b5" stroke-width="0.8"/>
</g>
<g class="t">
<text x="248.3" y="13.8" class="lga">#1</text>
<text x="248.3" y="23.400000000000002" class="lga">#2</text>
<text x="248.3" y="33.5" class="lga">#3</text>
<text x="66.3" y="182.2" class="tk" text-anchor="middle">500</text>
<text x="98.6" y="182.2" class="tk" text-anchor="middle">1000</text>
<text x="130.8" y="182.2" class="tk" text-anchor="middle">1500</text>
<text x="163.1" y="182.2" class="tk" text-anchor="middle">2000</text>
<text x="195.3" y="182.2" class="tk" text-anchor="middle">2500</text>
<text x="227.6" y="182.2" class="tk" text-anchor="middle">3000</text>
<text x="259.8" y="182.2" class="tk" text-anchor="middle">3500</text>
<text x="41.8" y="173.3" class="tk" text-anchor="end">0</text>
<text x="41.8" y="143.0" class="tk" text-anchor="end">1000</text>
<text x="41.8" y="112.8" class="tk" text-anchor="end">2000</text>
<text x="41.8" y="82.5" class="tk" text-anchor="end">3000</text>
<text x="41.8" y="52.3" class="tk" text-anchor="end">4000</text>
<text x="41.8" y="22.0" class="tk" text-anchor="end">5000</text>
<text x="153.5" y="198" class="ttl" text-anchor="middle">Raman shift (cm<tspan dy="-3.5" font-size="5.5">-1</tspan><tspan dy="3.5">)</tspan></text>
<text transform="translate(11.2,86.8) rotate(-90)" class="ttl" text-anchor="middle">Raman intensity (arb. units)</text>
<text x="146.8" y="23.9" class="pl" text-anchor="middle">(a)</text>
<text x="526.4" y="12.7" class="lg">A1</text>
<text x="526.4" y="22.400000000000002" class="lg">B1</text>
<text x="526.4" y="31.900000000000002" class="lg">C1</text>
<text x="332.2" y="182.2" class="tk" text-anchor="middle">300</text>
<text x="373.4" y="182.2" class="tk" text-anchor="middle">600</text>
<text x="414.7" y="182.2" class="tk" text-anchor="middle">900</text>
<text x="455.9" y="182.2" class="tk" text-anchor="middle">1200</text>
<text x="497.2" y="182.2" class="tk" text-anchor="middle">1500</text>
<text x="538.4" y="182.2" class="tk" text-anchor="middle">1800</text>
<text x="320.8" y="10.2" class="tk" text-anchor="end">1.0</text>
<text x="320.8" y="70.2" class="tk" text-anchor="end">0.8</text>
<text x="320.8" y="130.2" class="tk" text-anchor="end">0.6</text>
<text x="431.7" y="198" class="ttl" text-anchor="middle">Raman shift (cm<tspan dy="-3.5" font-size="5.5">-1</tspan><tspan dy="3.5">)</tspan></text>
<text transform="translate(295.9,86.8) rotate(-90)" class="ttl" text-anchor="middle">Normalized intensity</text>
<text x="412.9" y="23.9" class="pl" text-anchor="middle">(b)</text>
<text x="247.1" y="225.5" class="lg">A2</text>
<text x="247.1" y="235.20000000000002" class="lg">B2</text>
<text x="247.1" y="244.9" class="lg">C2</text>
<text x="53.4" y="395.2" class="tk" text-anchor="middle">300</text>
<text x="94.6" y="395.2" class="tk" text-anchor="middle">600</text>
<text x="135.9" y="395.2" class="tk" text-anchor="middle">900</text>
<text x="177.1" y="395.2" class="tk" text-anchor="middle">1200</text>
<text x="218.4" y="395.2" class="tk" text-anchor="middle">1500</text>
<text x="259.6" y="395.2" class="tk" text-anchor="middle">1800</text>
<text x="41.9" y="222.4" class="tk" text-anchor="end">1.0</text>
<text x="41.9" y="254.5" class="tk" text-anchor="end">0.8</text>
<text x="41.9" y="286.6" class="tk" text-anchor="end">0.6</text>
<text x="41.9" y="318.7" class="tk" text-anchor="end">0.4</text>
<text x="41.9" y="350.9" class="tk" text-anchor="end">0.2</text>
<text x="41.9" y="383.0" class="tk" text-anchor="end">0.0</text>
<text x="153" y="411.6" class="ttl" text-anchor="middle">Raman shift (cm<tspan dy="-3.5" font-size="5.5">-1</tspan><tspan dy="3.5">)</tspan></text>
<text transform="translate(18.4,299.6) rotate(-90)" class="ttl" text-anchor="middle">Normalized intensity</text>
<text x="146.3" y="236.1" class="pl" text-anchor="middle">(c)</text>
<text x="525.5" y="226.3" class="lg">A3</text>
<text x="525.5" y="235.8" class="lg">B3</text>
<text x="525.5" y="245.3" class="lg">C3</text>
<text x="332.3" y="395.4" class="tk" text-anchor="middle">300</text>
<text x="373.5" y="395.4" class="tk" text-anchor="middle">600</text>
<text x="414.7" y="395.4" class="tk" text-anchor="middle">900</text>
<text x="455.9" y="395.4" class="tk" text-anchor="middle">1200</text>
<text x="497.2" y="395.4" class="tk" text-anchor="middle">1500</text>
<text x="538.4" y="395.4" class="tk" text-anchor="middle">1800</text>
<text x="320.9" y="222.9" class="tk" text-anchor="end">1.0</text>
<text x="320.9" y="262.7" class="tk" text-anchor="end">0.8</text>
<text x="320.9" y="302.6" class="tk" text-anchor="end">0.6</text>
<text x="320.9" y="342.5" class="tk" text-anchor="end">0.4</text>
<text x="320.9" y="382.4" class="tk" text-anchor="end">0.2</text>
<text x="431.7" y="412.3" class="ttl" text-anchor="middle">Raman shift (cm<tspan dy="-3.5" font-size="5.5">-1</tspan><tspan dy="3.5">)</tspan></text>
<text transform="translate(295.9,299.6) rotate(-90)" class="ttl" text-anchor="middle">Normalized intensity</text>
<text x="412.9" y="236.1" class="pl" text-anchor="middle">(d)</text>
<text transform="translate(348.1,69.1) rotate(-90)" class="ann">392</text>
<text transform="translate(382.1,71.5) rotate(-90)" class="ann">639</text>
<text transform="translate(387.9,111.8) rotate(-90)" class="ann">668</text>
<text transform="translate(396.5,121.4) rotate(-90)" class="ann">736</text>
<text transform="translate(404.2,109.1) rotate(-90)" class="ann">810</text>
<text transform="translate(413.6,101.9) rotate(-90)" class="ann">820</text>
<text transform="translate(420.0,140.5) rotate(-90)" class="ann">914</text>
<text transform="translate(433.6,141.2) rotate(-90)" class="ann">1010</text>
<text transform="translate(447.0,111.9) rotate(-90)" class="ann">1113</text>
<text transform="translate(456.6,102.2) rotate(-90)" class="ann">1186</text>
<text transform="translate(487.1,80.6) rotate(-90)" class="ann">1401</text>
<text transform="translate(514.9,66.4) rotate(-90)" class="ann">1608</text>
<text transform="translate(71.1,234.0) rotate(-90)" class="ann">316</text>
<text transform="translate(78.7,255.6) rotate(-90)" class="ann">462</text>
<text transform="translate(96.1,285.0) rotate(-90)" class="ann">608</text>
<text transform="translate(103.9,253.9) rotate(-90)" class="ann">643</text>
<text transform="translate(55.2,308.6) rotate(-90)" class="ann">264</text>
<text transform="translate(64.2,330.5) rotate(-90)" class="ann">285</text>
<text transform="translate(187.9,347.3) rotate(-90)" class="ann">1253</text>
<text transform="translate(201.0,345.3) rotate(-90)" class="ann">1349</text>
<text transform="translate(211.9,342.9) rotate(-90)" class="ann">1428</text>
<text transform="translate(226.7,345.3) rotate(-90)" class="ann">1536</text>
<text transform="translate(340.7,293.4) rotate(-90)" class="ann">343</text>
<text transform="translate(345.9,323.5) rotate(-90)" class="ann">383</text>
<text transform="translate(390.8,330.6) rotate(-90)" class="ann">706</text>
<text transform="translate(426.7,348.9) rotate(-90)" class="ann">967</text>
<text transform="translate(447.3,346.8) rotate(-90)" class="ann">1118</text>
<text transform="translate(472.4,349.9) rotate(-90)" class="ann">1288</text>
<text transform="translate(486.8,318.4) rotate(-90)" class="ann">1401</text>
<text transform="translate(505.1,332.1) rotate(-90)" class="ann">1536</text>
</g>
</svg>
</body></html>
